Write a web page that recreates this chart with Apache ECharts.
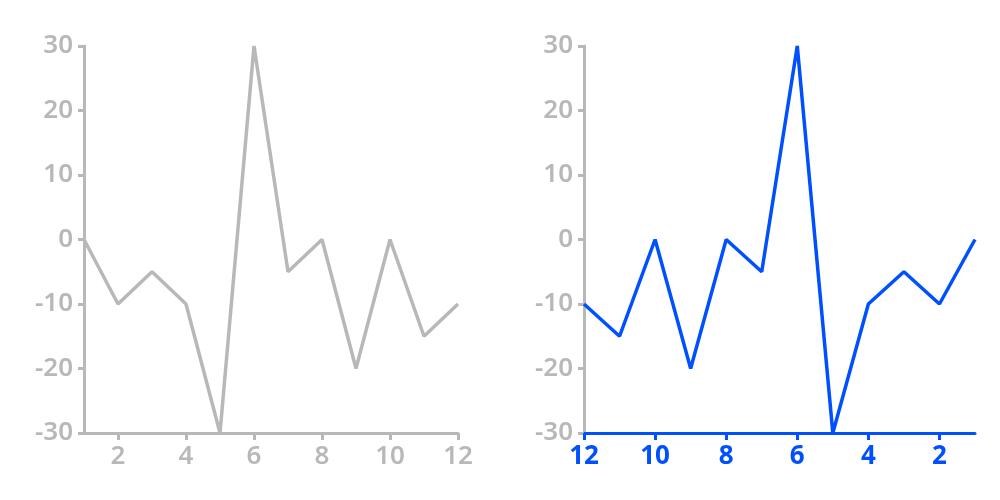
<!DOCTYPE html>
<html><head><meta charset="utf-8">
<script src="https://cdn.jsdelivr.net/npm/echarts@6/dist/echarts.min.js"></script>
<style>html,body{margin:0;padding:0;background:#fff}#c{width:1000px;height:500px}</style>
</head><body><div id="c"></div>
<script>
const categories = ['1','2','3','4','5','6','7','8','9','10','11','12'];
const values = [0, -10, -5, -10, -30, 30, -5, 0, -20, 0, -15, -10];
const yTicks = {min: -30, max: 30, interval: 10};

const GRAY = '#b8b8b8';
const BLUE = '#0050ff';
const FONT = 'Noto Sans';

function xAxis(idx, inverse, color, weight) {
  return {
    type: 'category', gridIndex: idx, data: categories, boundaryGap: false, inverse: inverse,
    axisLine: {onZero: false, lineStyle: {color: color, width: 3}},
    axisTick: {show: true, length: 7, lineStyle: {color: color, width: 3}, interval: (i) => i % 2 === 1},
    axisLabel: {color: color, fontFamily: FONT, fontSize: 26, fontWeight: weight, margin: 11, interval: (i) => i % 2 === 1},
    splitLine: {show: false}
  };
}
function yAxis(idx) {
  return {
    type: 'value', gridIndex: idx, min: yTicks.min, max: yTicks.max, interval: yTicks.interval,
    axisLine: {show: true, onZero: false, lineStyle: {color: GRAY, width: 3}},
    axisTick: {show: true, length: 6, lineStyle: {color: GRAY, width: 3}},
    axisLabel: {color: GRAY, fontFamily: FONT, fontSize: 26, fontWeight: 600, margin: 11},
    splitLine: {show: false}
  };
}
const chart = echarts.init(document.getElementById('c'));
chart.setOption({
  animation: false,
  grid: [
    {left: 84, width: 374, top: 46, height: 387},
    {left: 584, width: 391, top: 46, height: 387}
  ],
  xAxis: [xAxis(0, false, GRAY, 600), xAxis(1, true, BLUE, 'bold')],
  yAxis: [yAxis(0), yAxis(1)],
  series: [
    {type: 'line', xAxisIndex: 0, yAxisIndex: 0, data: values, showSymbol: false, lineStyle: {color: GRAY, width: 3.5}, z: 1},
    {type: 'line', xAxisIndex: 1, yAxisIndex: 1, data: values, showSymbol: false, lineStyle: {color: BLUE, width: 3.5}, z: 1}
  ]
});
</script></body></html>
